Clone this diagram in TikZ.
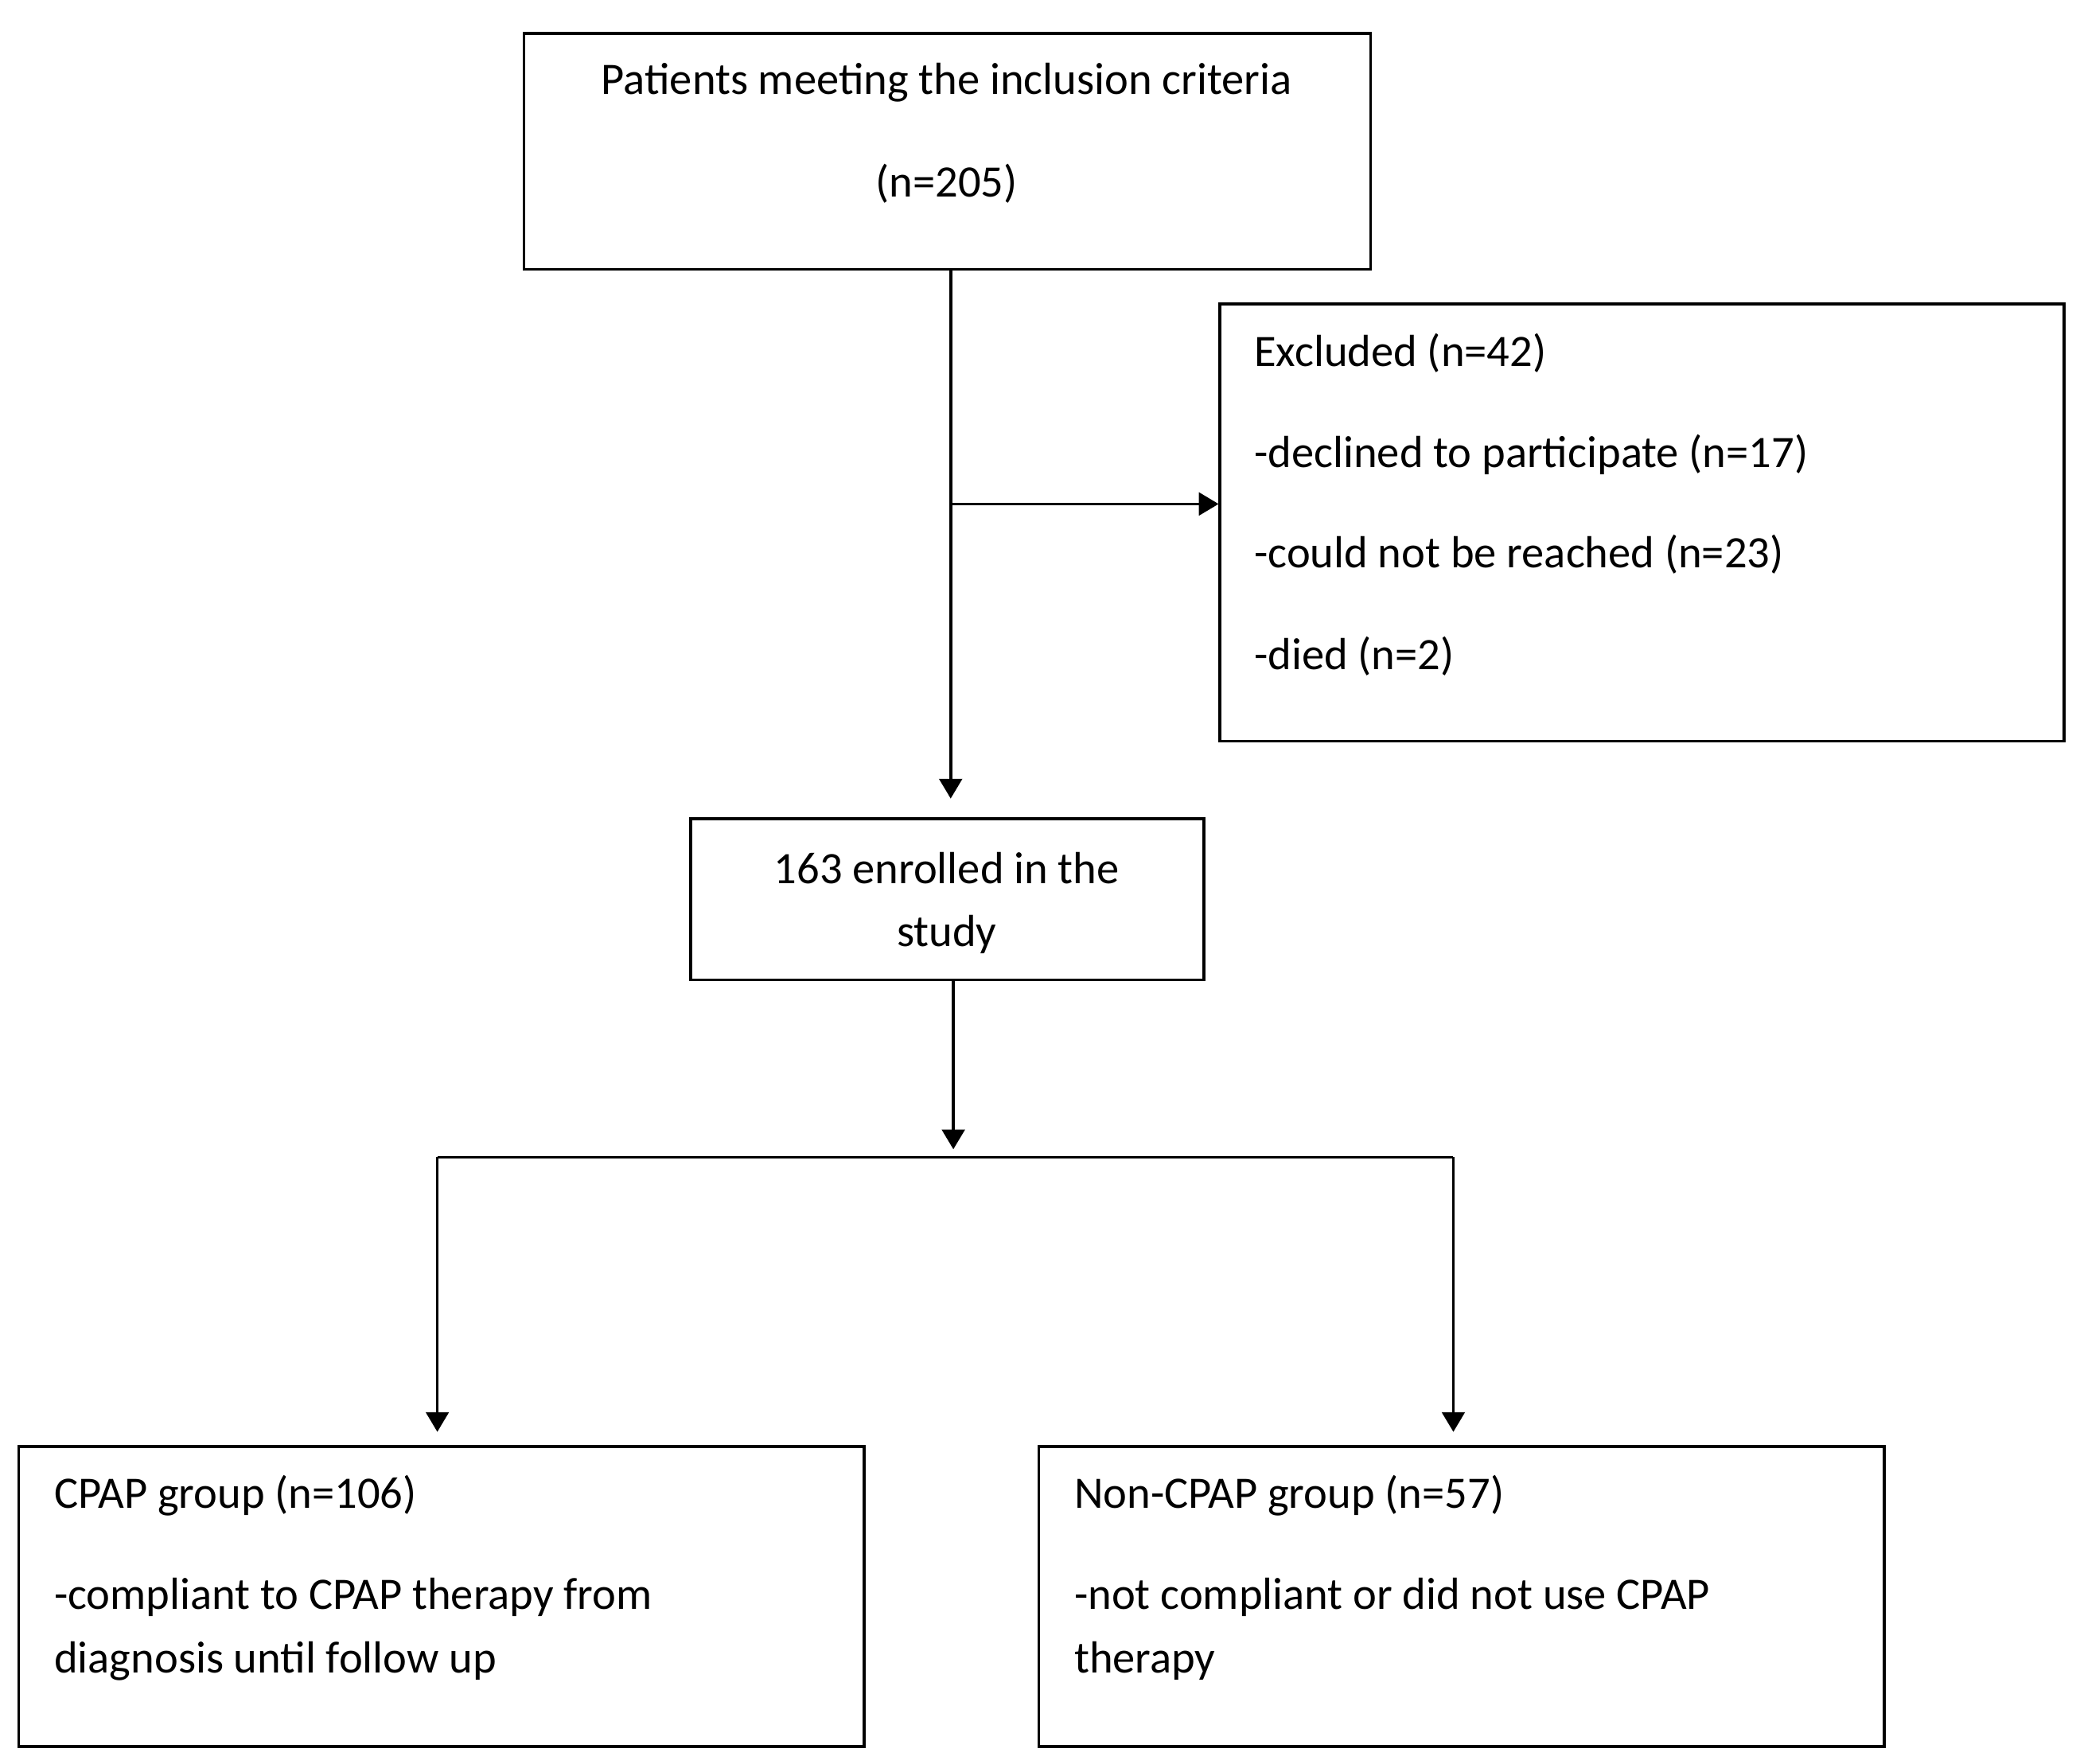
\documentclass[tikz,border=0pt]{standalone}
\usepackage{fontspec}
\setmainfont{Carlito}
\usetikzlibrary{arrows.meta, positioning}
\begin{document}
\begin{tikzpicture}[>=Triangle, x=1cm, y=1cm,
    box/.style={draw, line width=0.6pt, inner sep=0pt},
    txt/.style={font=\fontsize{9.6}{12}\selectfont, inner sep=0pt, anchor=west},
    ctxt/.style={font=\fontsize{9.6}{12}\selectfont, inner sep=0pt},
    line/.style={line width=0.6pt}]
    \useasboundingbox (0,0) rectangle (15.6,-13.23);
    % boxes
    \node[box, minimum width=6.35cm, minimum height=1.77cm] (top) at (7.105,-1.135) {};
    \node[box, minimum width=6.33cm, minimum height=3.28cm] (excl) at (12.315,-3.92) {};
    \node[box, minimum width=3.85cm, minimum height=1.21cm] (enr) at (7.105,-6.745) {};
    \node[box, minimum width=6.34cm, minimum height=2.25cm] (cpap) at (3.31,-11.975) {};
    \node[box, minimum width=6.34cm, minimum height=2.25cm] (ncpap) at (10.96,-11.975) {};
    % texts
    \node[ctxt] (t1) at (7.1,-0.62) {Patients meeting the inclusion criteria};
    \node[ctxt] (t2) at (7.1,-1.38) {(n=205)};
    \node[txt] (e1) at (9.4,-2.65) {Excluded (n=42)};
    \node[txt] (e2) at (9.4,-3.41) {-declined to participate (n=17)};
    \node[txt] (e3) at (9.4,-4.16) {-could not be reached (n=23)};
    \node[txt] (e4) at (9.4,-4.92) {-died (n=2)};
    \node[ctxt] (n1) at (7.1,-6.51) {163 enrolled in the};
    \node[ctxt] (n2) at (7.1,-7.01) {study};
    \node[txt] (c1) at (0.4,-11.22) {CPAP group (n=106)};
    \node[txt] (c2) at (0.4,-11.98) {-compliant to CPAP therapy from};
    \node[txt] (c3) at (0.4,-12.46) {diagnosis until follow up};
    \node[txt] (d1) at (8.05,-11.22) {Non-CPAP group (n=57)};
    \node[txt] (d2) at (8.05,-11.98) {-not compliant or did not use CPAP};
    \node[txt] (d3) at (8.05,-12.46) {therapy};
    % connectors
    \coordinate (br) at (7.13,-3.78);
    \coordinate (sp) at (7.15,-8.68);
    \coordinate (sl) at (3.28,-8.68);
    \coordinate (sr) at (10.9,-8.68);
    \draw[line, ->] (top.south -| br) -- ([yshift=1.4mm]enr.north -| br);
    \draw[line, ->] (br) -- (excl.west |- br);
    \draw[line, ->] (enr.south -| sp) -- ([yshift=0.6mm]sp);
    \draw[line] (sl) -- (sr);
    \draw[line, ->] (sl) -- ([yshift=1mm]cpap.north -| sl);
    \draw[line, ->] (sr) -- ([yshift=1mm]ncpap.north -| sr);
\end{tikzpicture}
\end{document}
